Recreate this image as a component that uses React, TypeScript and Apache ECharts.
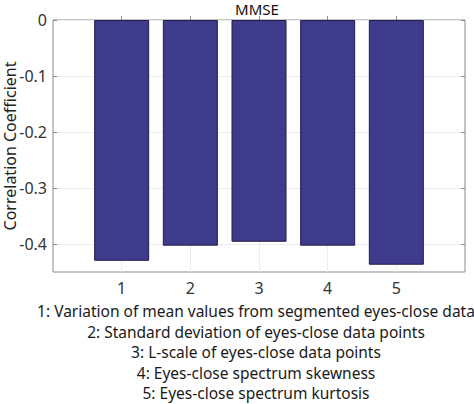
import React, { useEffect, useRef } from 'react';
import * as echarts from 'echarts';

// feature index on x, correlation on y
const featureIds = [1, 2, 3, 4, 5];
const correlations = [-0.43, -0.403, -0.396, -0.403, -0.437];
const yTicks = [0, -0.1, -0.2, -0.3, -0.4];
const captions = [
  '1: Variation of mean values from segmented eyes-close data',
  '2: Standard deviation of eyes-close data points',
  '3: L-scale of eyes-close data points',
  '4: Eyes-close spectrum skewness',
  '5: Eyes-close spectrum kurtosis'
];

const FONT = '"Noto Sans", sans-serif';

const App: React.FC = () => {
  const chartRef = useRef<HTMLDivElement>(null);

  useEffect(() => {
    document.body.style.margin = '0';
    if (!chartRef.current) return;
    const chart = echarts.init(chartRef.current, undefined, { renderer: 'svg' });

    const frame = '#8a8a8a';

    const option = {
      animation: false,
      textStyle: { fontFamily: FONT },
      title: {
        text: 'MMSE',
        left: 257,
        top: 1,
        padding: 0,
        textAlign: 'center',
        textStyle: { fontFamily: FONT, fontSize: 15, fontWeight: 'normal', color: '#111' }
      },
      grid: {
        left: 53,
        top: 20,
        width: 412,
        height: 252,
        outerBoundsMode: 'none',
        containLabel: false,
        show: true,
        borderColor: frame,
        borderWidth: 1,
        backgroundColor: '#fff'
      },
      xAxis: {
        type: 'value',
        min: 0,
        max: 6,
        interval: 1,
        axisLine: { show: false },
        axisTick: { show: true, inside: true, length: 4, lineStyle: { color: frame }, customValues: featureIds },
        axisLabel: { fontSize: 16, color: '#333', margin: 8, fontFamily: FONT, customValues: featureIds },
        splitLine: { show: true, lineStyle: { color: '#ececec' } }
      },
      yAxis: [
        {
          type: 'value',
          min: -0.45,
          max: 0,
          name: 'Correlation Coefficient',
          nameLocation: 'middle',
          nameGap: 35,
          nameMoveOverlap: false,
          nameTextStyle: { fontSize: 16, color: '#222', fontFamily: FONT },
          axisLine: { show: false },
          axisTick: { show: true, inside: true, length: 4, lineStyle: { color: frame }, customValues: yTicks },
          axisLabel: {
            fontSize: 16,
            color: '#333',
            margin: 6,
            fontFamily: FONT,
            customValues: yTicks,
            formatter: (v: number) => (v === 0 ? '0' : String(Math.round(v * 10) / 10))
          },
          splitLine: { show: true, lineStyle: { color: '#ececec' } }
        },
        {
          type: 'value',
          position: 'right',
          min: -0.45,
          max: 0,
          axisLine: { show: false },
          axisTick: { show: true, inside: true, length: 4, lineStyle: { color: frame }, customValues: yTicks },
          axisLabel: { show: false },
          splitLine: { show: false }
        }
      ],
      series: [
        {
          type: 'bar',
          barWidth: 55,
          data: featureIds.map((id, i) => [id, correlations[i]]),
          itemStyle: { color: '#3e3a8c', borderColor: '#1f1d4a', borderWidth: 1 }
        }
      ],
      graphic: captions.map((t, i) => ({
        type: 'text',
        x: 256,
        y: 311 + i * 20.6,
        style: {
          text: t,
          fontSize: 15.5,
          fontFamily: FONT,
          fill: '#1a1a1a',
          align: 'center',
          verticalAlign: 'middle'
        }
      }))
    };

    chart.setOption(option);
    return () => {
      chart.dispose();
    };
  }, []);

  return <div ref={chartRef} style={{ width: 474, height: 404 }} />;
};

export default App;
